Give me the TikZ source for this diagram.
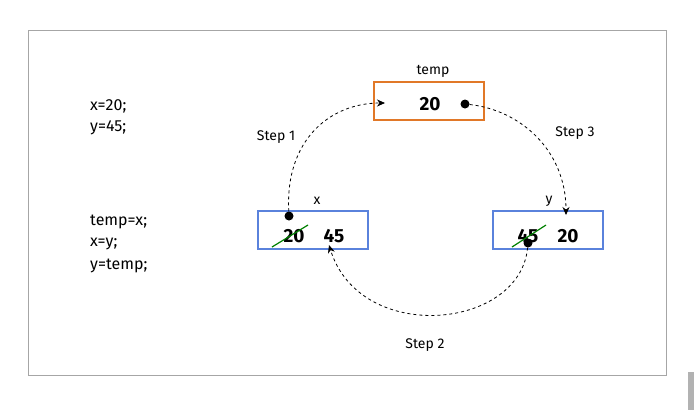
\documentclass[tikz,border=0pt]{standalone}
\usepackage{fontspec}
\setmainfont{Fira Sans}
\usetikzlibrary{arrows.meta}
\definecolor{boxblue}{RGB}{90,130,220}
\definecolor{boxorange}{RGB}{225,120,40}
\begin{document}
\begin{tikzpicture}[x=1pt,y=-1pt,
  box/.style={draw,line width=1.1pt,minimum width=110pt,minimum height=38pt,inner sep=0pt},
  lbl/.style={font=\fontsize{14}{16}\selectfont,inner sep=0pt},
  val/.style={font=\bfseries\fontsize{19}{21}\selectfont,inner sep=0pt},
  code/.style={font=\fontsize{16}{18}\selectfont,inner sep=0pt,anchor=west},
  conn/.style={dashed,thick,-{Stealth[length=8pt,width=7pt]}},
  dotc/.style={circle,fill=black,inner sep=0pt,minimum size=9pt}]
\useasboundingbox (0,0) rectangle (700,416);
\draw[gray!70] (28,30) rectangle (666,375);
\fill[gray!60] (688,372) rectangle (694,410);
\node[box,draw=boxorange] (temp) at (429,101) {};
\node[box,draw=boxblue] (xb) at (313,230) {};
\node[box,draw=boxblue] (yb) at (548,230) {};
\node[lbl] (tl) at (433,71) {temp};
\node[lbl] (xl) at (317,201) {x};
\node[lbl] (yl) at (549,201) {y};
\node[val] (t20) at (430,104) {20};
\node[val] (x20) at (294,236) {20};
\node[val] (x45) at (334,236) {45};
\node[val] (y45) at (528,236) {45};
\node[val] (y20) at (568,236) {20};
\draw[green!50!black,line width=1.2pt] (272,247) -- (308,225);
\draw[green!50!black,line width=1.2pt] (512,247) -- (546,225);
\node[dotc] (d1) at (289,216) {};
\node[dotc] (d3) at (465,104) {};
\node[dotc] (d2) at (528,243) {};
\coordinate (a1) at (385,103);
\coordinate (a3) at (566,215);
\coordinate (a2) at (329,245);
\draw[conn] (d1) .. controls (285,140) and (330,103) .. (a1);
\draw[conn] (d3) .. controls (520,110) and (566,150) .. (a3);
\draw[conn] (d2) .. controls (520,330) and (360,345) .. (a2);
\node[lbl] (s1) at (276,137) {Step 1};
\node[lbl] (s3) at (575,133) {Step 3};
\node[lbl] (s2) at (425,345) {Step 2};
\node[code] (c1) at (90,106) {x=20;};
\node[code] (c2) at (90,128) {y=45;};
\node[code] (c3) at (90,222) {temp=x;};
\node[code] (c4) at (90,244) {x=y;};
\node[code] (c5) at (90,266) {y=temp;};
\end{tikzpicture}
\end{document}
